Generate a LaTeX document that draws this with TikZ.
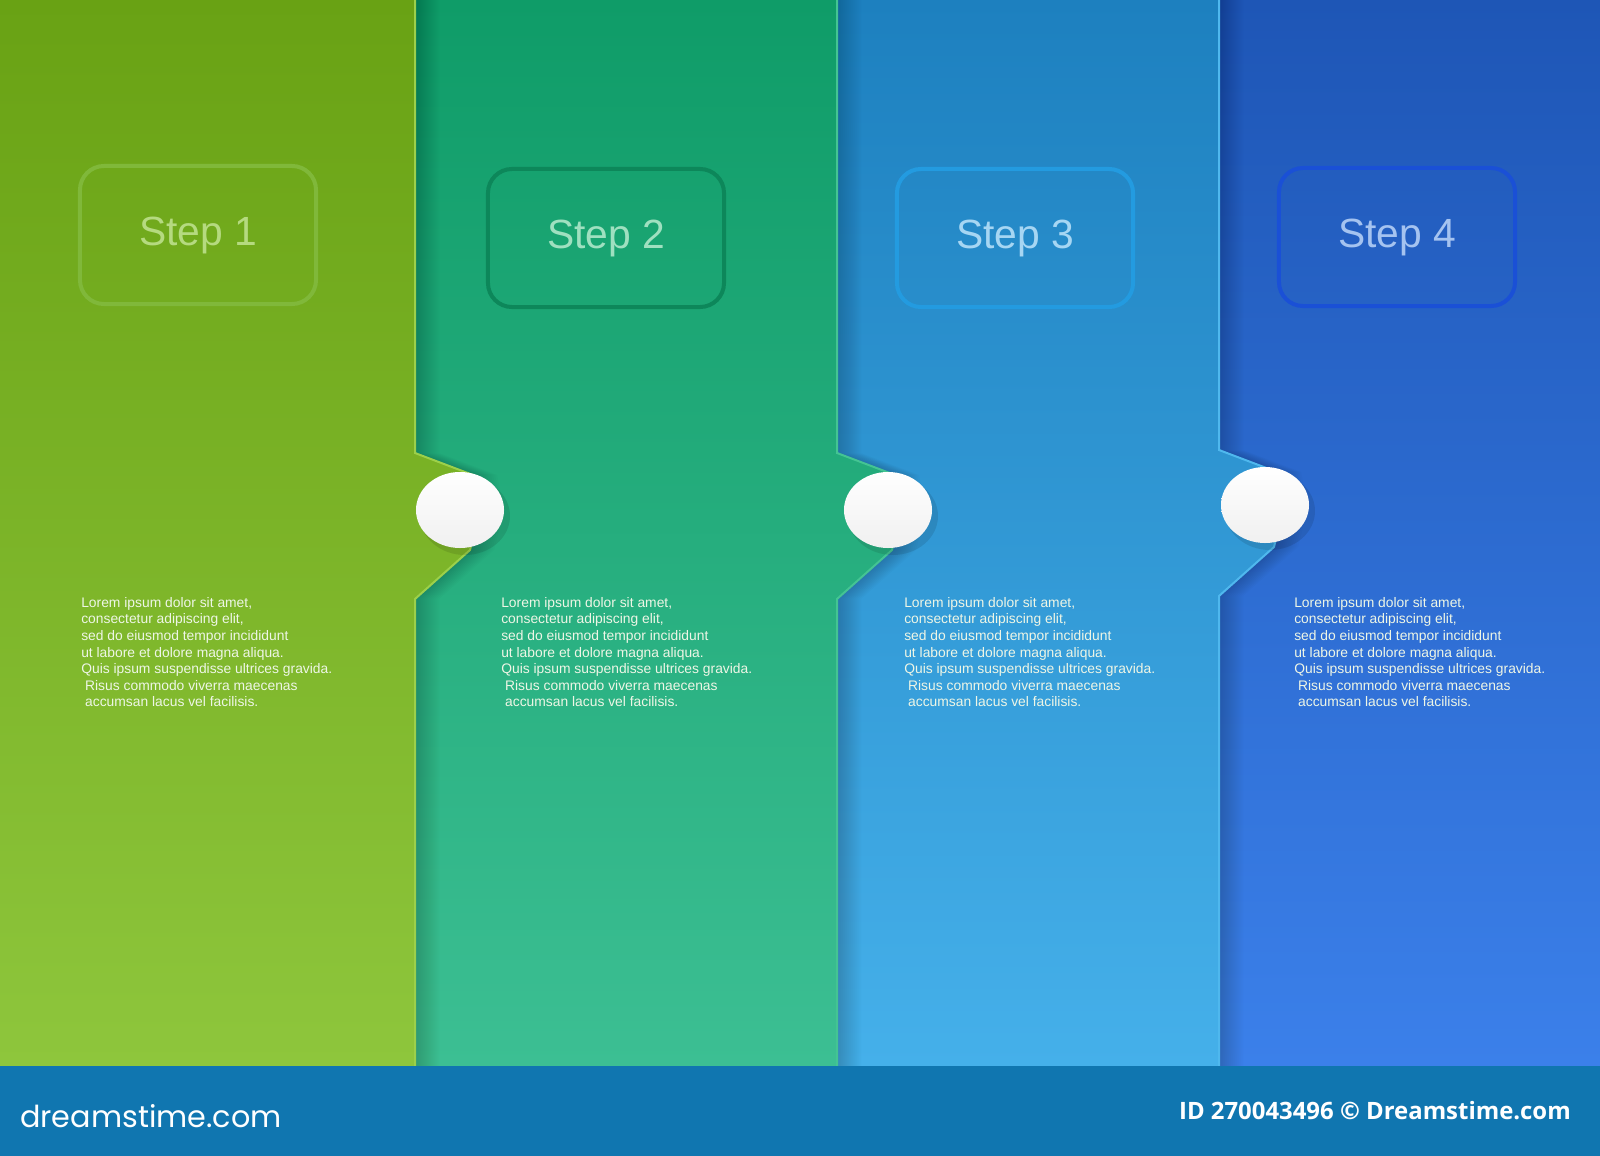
\documentclass[tikz,border=0pt]{standalone}
\usepackage{fontspec}
\setmainfont{Liberation Sans}
\newfontfamily\logofont{Poppins}
\newfontfamily\idfont{Open Sans}
\usepackage{tikz}
\usetikzlibrary{shapes.geometric,positioning,calc}

\definecolor{ponetop}{HTML}{69A214}
\definecolor{ponebot}{HTML}{8EC63C}
\definecolor{ponedge}{HTML}{9CD04A}
\definecolor{ptwotop}{HTML}{0F9C68}
\definecolor{ptwobot}{HTML}{3CBF93}
\definecolor{ptwoedge}{HTML}{44C493}
\definecolor{pthreetop}{HTML}{1D80BF}
\definecolor{pthreebot}{HTML}{45B0EA}
\definecolor{pthreeedge}{HTML}{4FB8EE}
\definecolor{pfourtop}{HTML}{1E56B6}
\definecolor{pfourbot}{HTML}{3B80EA}
\definecolor{barblue}{HTML}{1076B0}
\definecolor{boxoneline}{HTML}{80B83A}
\definecolor{boxonetext}{HTML}{B5DA80}
\definecolor{boxtwoline}{HTML}{0D875A}
\definecolor{boxtwotext}{HTML}{9FE0C0}
\definecolor{boxthreeline}{HTML}{239BE0}
\definecolor{boxthreetext}{HTML}{A6D6F3}
\definecolor{boxfourline}{HTML}{1A50D6}
\definecolor{boxfourtext}{HTML}{A5C3F0}
\definecolor{loremtext}{HTML}{EEF6E6}

\begin{document}
\begin{tikzpicture}[x=0.025cm,y=-0.025cm,
  stepbox/.style={draw,rounded corners=0.6cm,line width=0.1cm,
    minimum width=5.9cm,minimum height=3.45cm,
    font=\fontsize{29}{35}\selectfont},
  loremblock/.style={anchor=north west,inner sep=0pt,align=left,
    text=loremtext,font=\fontsize{9.85}{11.8}\selectfont},
  dot/.style={ellipse,minimum width=2.2cm,minimum height=1.9cm,
    inner sep=0pt,top color=white,bottom color=black!6}]
\useasboundingbox (0,0) rectangle (1600,1156);

% last panel at the back
\shade[top color=pfourtop,bottom color=pfourbot] (0,0) rectangle (1600,1066);

% the other panels, each one laid over the next
\foreach \xe/\ty/\ct/\cb/\ce in {1219/507/pthreetop/pthreebot/pthreeedge,
    837/510/ptwotop/ptwobot/ptwoedge, 415/510/ponetop/ponebot/ponedge}{
  \foreach \s in {2,4,...,24}
    \fill[black,opacity=0.014,xshift=\s*0.025cm]
      (0,0) -- (\xe,0) -- (\xe,{\ty-57}) -- ({\xe+58},{\ty-35})
      -- ({\xe+65},\ty) -- ({\xe+55},{\ty+40}) -- (\xe,{\ty+89})
      -- (\xe,1066) -- (0,1066) -- cycle;
  \shade[top color=\ct,bottom color=\cb]
    (0,0) -- (\xe,0) -- (\xe,{\ty-57}) -- ({\xe+58},{\ty-35})
    -- ({\xe+65},\ty) -- ({\xe+55},{\ty+40}) -- (\xe,{\ty+89})
    -- (\xe,1066) -- (0,1066) -- cycle;
  \draw[\ce,line width=0.05cm]
    (\xe,0) -- (\xe,{\ty-57}) -- ({\xe+58},{\ty-35})
    -- ({\xe+65},\ty) -- ({\xe+55},{\ty+40}) -- (\xe,{\ty+89})
    -- (\xe,1066);
}

% step boxes
\node[stepbox,draw=boxoneline,text=boxonetext] (step1) at (198,235) {Step 1};
\node[stepbox,draw=boxtwoline,text=boxtwotext] (step2) at (606,238) {Step 2};
\node[stepbox,draw=boxthreeline,text=boxthreetext] (step3) at (1015,238) {Step 3};
\node[stepbox,draw=boxfourline,text=boxfourtext] (step4) at (1397,237) {Step 4};

% white dots on the tips
\foreach \n/\x/\y in {12/460/510, 23/888/510, 34/1265/505}{
  \fill[black,opacity=0.1] (\x+5,\y+6) ellipse [x radius=45,y radius=39];
  \node[dot] (dot\n) at (\x,\y) {};
}

% text blocks
\foreach \n/\x in {1/81, 2/501, 3/904, 4/1294}
  \node[loremblock] (lorem\n) at (\x,597) {Lorem ipsum dolor sit amet,\\
    consectetur adipiscing elit,\\
    sed do eiusmod tempor incididunt\\
    ut labore et dolore magna aliqua.\\
    Quis ipsum suspendisse ultrices gravida.\\
    \hspace{0.28em}Risus commodo viverra maecenas\\
    \hspace{0.28em}accumsan lacus vel facilisis.};

% bottom bar
\fill[barblue] (0,1066) rectangle (1600,1156);
\node[anchor=west,inner sep=0pt,text=white,font=\logofont\fontsize{21.5}{25}\selectfont]
  (logo) at (20,1116) {dreamstime.com};
\node[anchor=east,inner sep=0pt,text=white,font=\idfont\bfseries\fontsize{17}{20}\selectfont]
  (imgid) at (1571,1111) {ID 270043496 © Dreamstime.com};
\end{tikzpicture}
\end{document}
